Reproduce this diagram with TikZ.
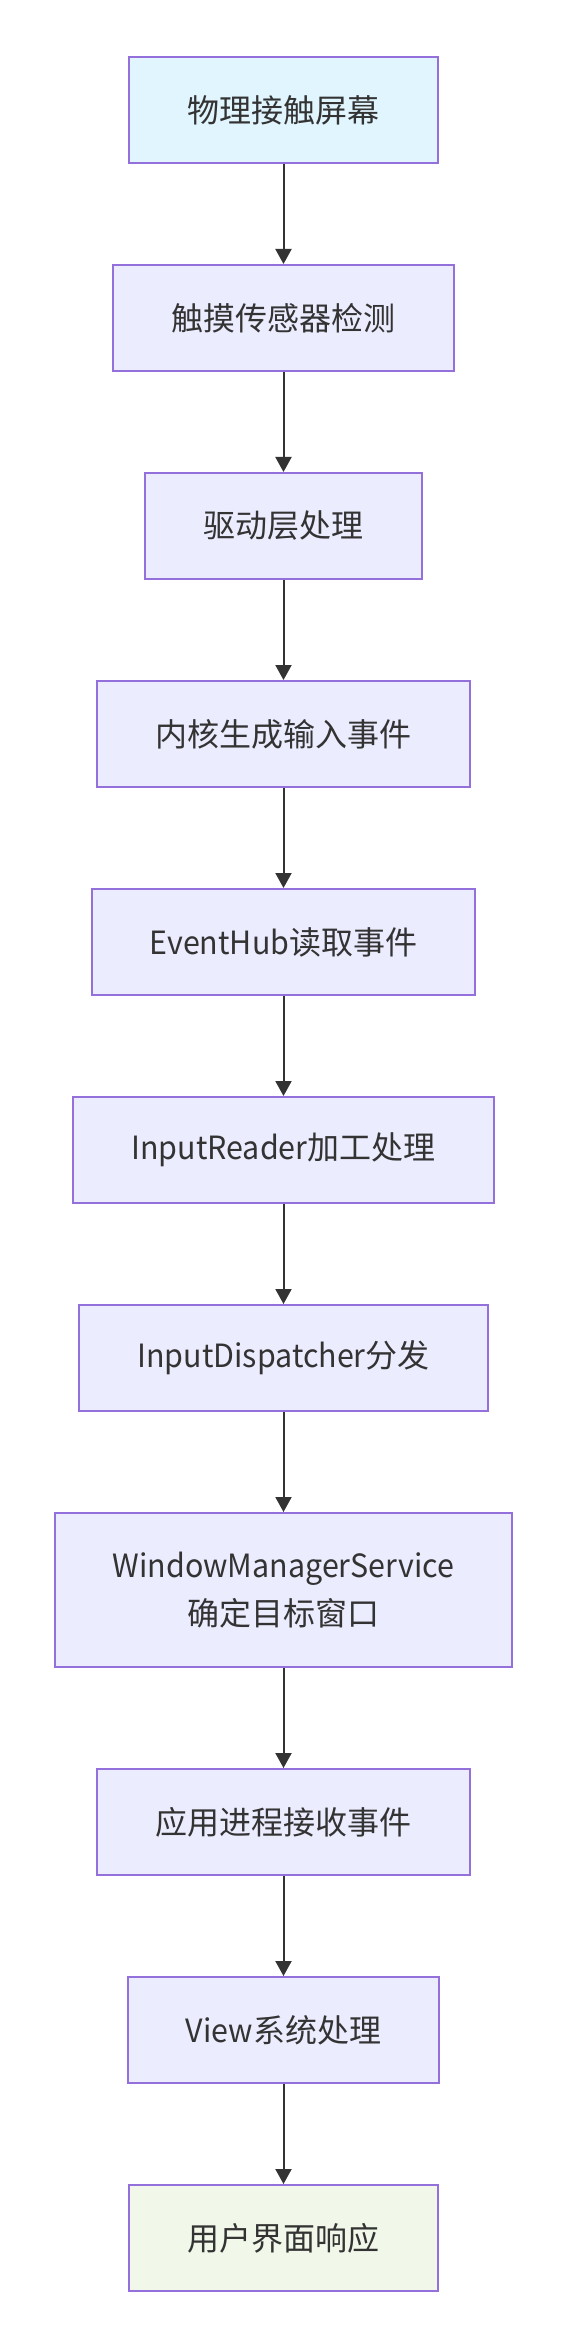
\documentclass[tikz,border=0pt]{standalone}
\usepackage{fontspec}
\setmainfont{Noto Sans CJK SC}
\newfontfamily\latinfont{Noto Sans CJK SC}[FakeStretch=0.95]
\usetikzlibrary{positioning, arrows.meta}

\definecolor{boxfill}{HTML}{ECECFF}
\definecolor{boxline}{HTML}{9370DB}
\definecolor{startfill}{HTML}{E1F5FE}
\definecolor{endfill}{HTML}{F1F8E9}
\definecolor{textgray}{HTML}{333333}

\newcommand{\lat}[1]{{\latinfont #1}}

\begin{document}
\begin{tikzpicture}[
		font=\fontsize{16pt}{24pt}\selectfont,
		node distance=50pt,
		stage/.style={draw=boxline, fill=boxfill, line width=1pt, text=textgray, inner xsep=29pt, inner ysep=0pt, minimum height=53pt, align=center},
		flow/.style={-{Triangle[length=7.5pt, width=8pt]}, draw=textgray, line width=1pt}
	]
		% Draw the stages, top to bottom
		\node[stage, fill=startfill] (touch) at (0,0) {物理接触屏幕};
		\node[stage, below=of touch] (sensor) {触摸传感器检测};
		\node[stage, below=of sensor] (driver) {驱动层处理};
		\node[stage, below=of driver] (kernel) {内核生成输入事件};
		\node[stage, below=of kernel] (eventhub) {\lat{EventHub}读取事件};
		\node[stage, below=of eventhub] (reader) {\lat{InputReader}加工处理};
		\node[stage, below=of reader] (dispatcher) {\lat{InputDispatcher}分发};
		\node[stage, below=of dispatcher, minimum height=77pt] (wms) {\lat{WindowManagerService}\\确定目标窗口};
		\node[stage, below=of wms] (app) {应用进程接收事件};
		\node[stage, below=of app] (view) {\lat{View}系统处理};
		\node[stage, fill=endfill, below=of view] (ui) {用户界面响应};

		% Draw the arrows between the stages
		\draw[flow] (touch) -- (sensor);
		\draw[flow] (sensor) -- (driver);
		\draw[flow] (driver) -- (kernel);
		\draw[flow] (kernel) -- (eventhub);
		\draw[flow] (eventhub) -- (reader);
		\draw[flow] (reader) -- (dispatcher);
		\draw[flow] (dispatcher) -- (wms);
		\draw[flow] (wms) -- (app);
		\draw[flow] (app) -- (view);
		\draw[flow] (view) -- (ui);

		% Margins of the picture
		\useasboundingbox ([xshift=-141.75pt, yshift=28pt]touch.north) rectangle ([xshift=141.75pt, yshift=-28pt]ui.south);

	\end{tikzpicture}
\end{document}
